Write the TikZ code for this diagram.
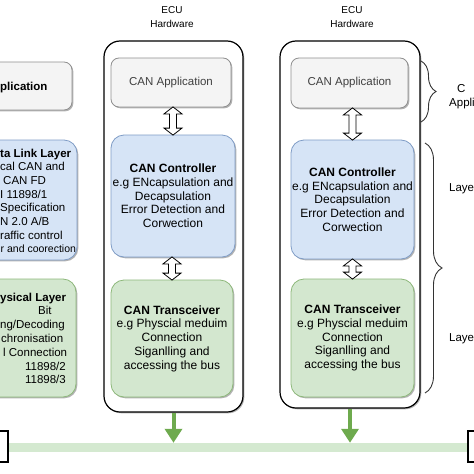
\documentclass[tikz,border=0pt]{standalone}
\usepackage{fontspec}
\setmainfont{Liberation Sans}
\usetikzlibrary{calc,shadows,decorations.pathreplacing,arrows.meta}
\definecolor{appfill}{HTML}{F4F4F4}
\definecolor{appdraw}{HTML}{8F8F8F}
\definecolor{ctlfill}{HTML}{D6E4F6}
\definecolor{ctldraw}{HTML}{7F9CC6}
\definecolor{trfill}{HTML}{D3E7CF}
\definecolor{trdraw}{HTML}{8DB87A}
\definecolor{busfill}{HTML}{D4E9D0}
\definecolor{arrgreen}{HTML}{6EAA4E}
\newcommand\hollowdbl[2]{%
  \path[hollow] let \p1=(#1.south), \p2=(#2.north) in
  (\x2,\y1+0.5pt) -- (\x2+9pt,\y1-6.5pt) -- (\x2+3.5pt,\y1-6.5pt) -- (\x2+3.5pt,\y2+6.5pt)
  -- (\x2+9pt,\y2+6.5pt) -- (\x2,\y2-0.5pt) -- (\x2-9pt,\y2+6.5pt) -- (\x2-3.5pt,\y2+6.5pt)
  -- (\x2-3.5pt,\y1-6.5pt) -- (\x2-9pt,\y1-6.5pt) -- cycle;}
\begin{document}
\begin{tikzpicture}[x=1pt,y=-1pt,
  myshadow/.style={drop shadow={shadow xshift=1.3pt,shadow yshift=-1.3pt,opacity=.3,fill=black}},
  boxtext/.style={font=\fontsize{12}{13.7}\selectfont, align=center, inner sep=0pt},
  ecubox/.style={draw=black, line width=1.2pt, fill=white, rounded corners=16pt, myshadow, inner sep=0pt},
  appbox/.style={boxtext, draw=appdraw, fill=appfill, line width=0.8pt, rounded corners=8pt, myshadow, text=black!75, font=\fontsize{11.5}{13}\selectfont},
  ctlbox/.style={boxtext, draw=ctldraw, fill=ctlfill, line width=0.8pt, rounded corners=13pt, myshadow},
  trbox/.style={boxtext, draw=trdraw, fill=trfill, line width=0.8pt, rounded corners=13pt, myshadow},
  ecutitle/.style={align=center, inner sep=0pt, font=\fontsize{10}{14}\selectfont},
  cutw/.style={inner sep=0pt, anchor=base west, font=\fontsize{11.5}{13.7}\selectfont},
  cute/.style={inner sep=0pt, anchor=base east, font=\fontsize{11.5}{13.7}\selectfont},
  sidetext/.style={inner sep=0pt, anchor=base west, font=\fontsize{11.5}{13}\selectfont},
  hollow/.style={draw=black, fill=white, line width=0.8pt, line join=miter},
  greenarr/.style={draw=arrgreen, line width=4pt, -{Triangle[width=17pt,length=14pt]}},
  termbox/.style={draw=black, fill=white, line width=1.1pt, inner sep=0pt},
  bracestyle/.style={draw=black!80, line width=0.9pt, decorate}
]
\useasboundingbox (0,0) rectangle (474,474);
\clip (0,0) rectangle (474,474);

% ---- left (cut-off) column ----
\node[appbox, minimum width=132pt, minimum height=48pt] (lapp) at (6,86) {};
\node[ctlbox, minimum width=127pt, minimum height=120pt] (ldl) at (13.5,200) {};
\node[trbox, minimum width=126pt, minimum height=118pt] (lph) at (13,338) {};
\node[cutw, font=\fontsize{11.5}{13.7}\selectfont\bfseries] (la1) at (0,90) {plication};

\node[cutw, font=\fontsize{11.5}{13.7}\selectfont\bfseries] (d1) at (0,157) {ta Link Layer};
\node[cutw] (d2) at (0,170.7) {cal CAN and};
\node[cutw] (d3) at (3,184.4) {CAN FD};
\node[cutw] (d4) at (0,198.1) {I 11898/1};
\node[cutw] (d5) at (0,211.8) {Specification};
\node[cutw] (d6) at (0,225.5) {N 2.0 A/B};
\node[cutw] (d7) at (0,239.2) {raffic control};
\node[cutw, font=\fontsize{10.5}{13.7}\selectfont] (d8) at (0.5,252.9) {r and coorection};

\node[cutw, font=\fontsize{11.5}{13.7}\selectfont\bfseries] (p1) at (0,301) {ysical Layer};
\node[cutw] (p2) at (38,314.8) {Bit};
\node[cutw] (p3) at (0,328.6) {ng/Decoding};
\node[cutw] (p4) at (1,342.4) {chronisation};
\node[cutw] (p5) at (3,356.2) {l Connection};
\node[cute] (p6) at (66,370) {11898/2};
\node[cute] (p7) at (66,383.8) {11898/3};

% ---- middle ECU ----
\node[ecutitle] (t1) at (172,17) {ECU\\Hardware};
\node[ecubox, minimum width=139pt, minimum height=371pt] (ecu1) at (173.5,226.5) {};
\node[appbox, minimum width=120pt, minimum height=49pt] (app1) at (171,82.5) {CAN Application};
\node[ctlbox, minimum width=124pt, minimum height=122pt] (ctl1) at (173,196)
  {\textbf{CAN Controller}\\e.g ENcapsulation and\\Decapsulation\\Error Detection and\\Corwection};
\node[trbox, minimum width=122pt, minimum height=117pt] (tr1) at (172,338.5)
  {\textbf{CAN Transceiver}\\e.g Physcial meduim\\Connection\\Siganlling and\\accessing the bus};

% ---- right ECU ----
\node[ecutitle] (t2) at (352,17) {ECU\\Hardware};
\node[ecubox, minimum width=140pt, minimum height=367pt] (ecu2) at (350,224.5) {};
\node[appbox, minimum width=117pt, minimum height=50pt] (app2) at (349.5,83) {CAN Application};
\node[ctlbox, minimum width=123pt, minimum height=119pt] (ctl2) at (352.5,199.5)
  {\textbf{CAN Controller}\\e.g ENcapsulation and\\Decapsulation\\Error Detection and\\Corwection};
\node[trbox, minimum width=123pt, minimum height=118pt] (tr2) at (352.5,338)
  {\textbf{CAN Transceiver}\\e.g Physcial meduim\\Connection\\Siganlling and\\accessing the bus};

% ---- hollow double arrows ----
\hollowdbl{app1}{ctl1}
\hollowdbl{ctl1}{tr1}
\hollowdbl{app2}{ctl2}
\hollowdbl{ctl2}{tr2}

% ---- bus ----
\node[fill=busfill, inner sep=0pt, minimum width=460pt, minimum height=9pt] (bus) at (238,447.5) {};
\node[termbox, minimum width=28pt, minimum height=31pt] (term1) at (-6,446.5) {};
\node[termbox, minimum width=30pt, minimum height=31pt] (term2) at (483,446.5) {};
\draw[greenarr] (ecu1.south) -- (ecu1.south |- bus.north);
\draw[greenarr] (ecu2.south) -- (ecu2.south |- bus.north);

% ---- braces on the right ----
\draw[bracestyle, decoration={brace, amplitude=15pt}] (421,61) -- (421,122);
\draw[bracestyle, decoration={brace, amplitude=17pt}] (425,143) -- (425,393);
\node[sidetext] (s1) at (457,92) {C};
\node[sidetext] (s2) at (449,106) {Appli};
\node[sidetext] (s3) at (449,191) {Laye};
\node[sidetext] (s4) at (449,341) {Laye};
\end{tikzpicture}
\end{document}
